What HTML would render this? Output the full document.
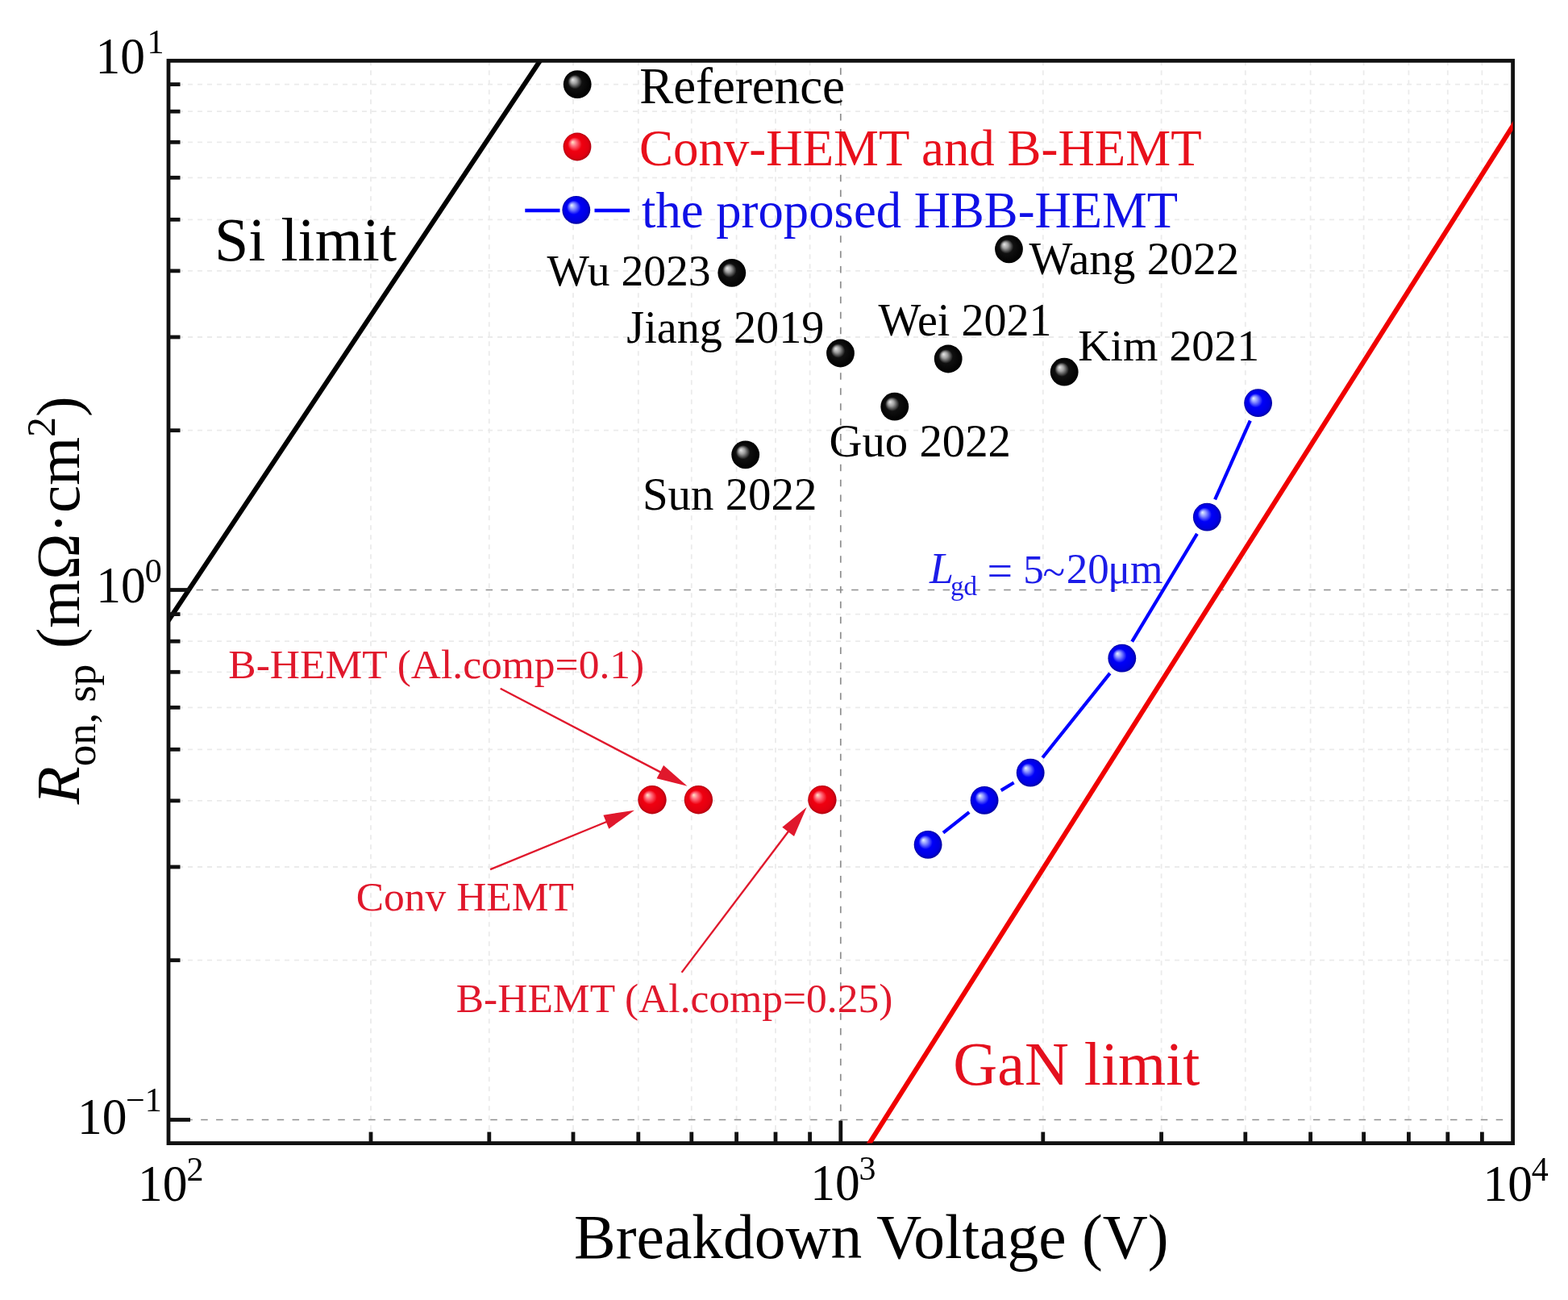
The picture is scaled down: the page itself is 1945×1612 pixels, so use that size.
<!DOCTYPE html>
<html><head><meta charset="utf-8"><title>Ron,sp vs Breakdown Voltage</title>
<style>html,body{margin:0;padding:0;background:#fff;} svg{display:block;} text{font-family:'Liberation Serif','Times New Roman',serif;}</style>
</head><body>
<svg width="1945" height="1612" viewBox="0 0 1945 1612">
<defs>
<radialGradient id="gk" cx="0.5" cy="0.5" r="0.5" fx="0.33" fy="0.33">
<stop offset="0" stop-color="#e8e8e8"/><stop offset="0.22" stop-color="#a0a0a0"/><stop offset="0.5" stop-color="#101010"/><stop offset="1" stop-color="#000"/>
</radialGradient>
<radialGradient id="gr" cx="0.5" cy="0.5" r="0.5" fx="0.33" fy="0.33">
<stop offset="0" stop-color="#ffe6c8"/><stop offset="0.22" stop-color="#ff7080"/><stop offset="0.5" stop-color="#f00010"/><stop offset="0.85" stop-color="#e00010"/><stop offset="1" stop-color="#b00010"/>
</radialGradient>
<radialGradient id="gb" cx="0.5" cy="0.5" r="0.5" fx="0.33" fy="0.33">
<stop offset="0" stop-color="#e8f4ff"/><stop offset="0.22" stop-color="#8890ff"/><stop offset="0.5" stop-color="#0000f8"/><stop offset="0.85" stop-color="#0000e0"/><stop offset="1" stop-color="#0000a0"/>
</radialGradient>
<clipPath id="plot"><rect x="209.0" y="75.3" width="1667.6" height="1342.3"/></clipPath>
</defs>
<rect width="1945" height="1612" fill="#fff"/>

<g stroke="#ebebeb" stroke-width="1.8" stroke-dasharray="6 6"><line x1="460.0" y1="75.3" x2="460.0" y2="1417.6"/><line x1="606.8" y1="75.3" x2="606.8" y2="1417.6"/><line x1="711.0" y1="75.3" x2="711.0" y2="1417.6"/><line x1="791.8" y1="75.3" x2="791.8" y2="1417.6"/><line x1="857.8" y1="75.3" x2="857.8" y2="1417.6"/><line x1="913.6" y1="75.3" x2="913.6" y2="1417.6"/><line x1="962.0" y1="75.3" x2="962.0" y2="1417.6"/><line x1="1004.6" y1="75.3" x2="1004.6" y2="1417.6"/><line x1="1293.8" y1="75.3" x2="1293.8" y2="1417.6"/><line x1="1440.6" y1="75.3" x2="1440.6" y2="1417.6"/><line x1="1544.8" y1="75.3" x2="1544.8" y2="1417.6"/><line x1="1625.6" y1="75.3" x2="1625.6" y2="1417.6"/><line x1="1691.6" y1="75.3" x2="1691.6" y2="1417.6"/><line x1="1747.4" y1="75.3" x2="1747.4" y2="1417.6"/><line x1="1795.8" y1="75.3" x2="1795.8" y2="1417.6"/><line x1="1838.4" y1="75.3" x2="1838.4" y2="1417.6"/><line x1="209.0" y1="1190.7" x2="1876.6" y2="1190.7"/><line x1="209.0" y1="1075.0" x2="1876.6" y2="1075.0"/><line x1="209.0" y1="992.9" x2="1876.6" y2="992.9"/><line x1="209.0" y1="929.3" x2="1876.6" y2="929.3"/><line x1="209.0" y1="877.3" x2="1876.6" y2="877.3"/><line x1="209.0" y1="833.3" x2="1876.6" y2="833.3"/><line x1="209.0" y1="795.2" x2="1876.6" y2="795.2"/><line x1="209.0" y1="761.6" x2="1876.6" y2="761.6"/><line x1="209.0" y1="533.7" x2="1876.6" y2="533.7"/><line x1="209.0" y1="418.0" x2="1876.6" y2="418.0"/><line x1="209.0" y1="335.9" x2="1876.6" y2="335.9"/><line x1="209.0" y1="272.3" x2="1876.6" y2="272.3"/><line x1="209.0" y1="220.3" x2="1876.6" y2="220.3"/><line x1="209.0" y1="176.3" x2="1876.6" y2="176.3"/><line x1="209.0" y1="138.2" x2="1876.6" y2="138.2"/><line x1="209.0" y1="104.6" x2="1876.6" y2="104.6"/></g>
<g stroke="#8e8e8e" stroke-width="1.7" stroke-dasharray="8.5 10.4"><line x1="1042.8" y1="75.3" x2="1042.8" y2="1417.6" stroke-dashoffset="9.85"/><line x1="209.0" y1="731.5" x2="1876.6" y2="731.5" stroke-dashoffset="3.3"/><line x1="209.0" y1="1388.5" x2="1876.6" y2="1388.5" stroke-dashoffset="-2.4"/></g>
<line x1="205.0" y1="775.4" x2="673.9" y2="69.3" stroke="#000" stroke-width="6" clip-path="url(#plot)"/>
<rect x="209.0" y="75.3" width="1667.6" height="1342.3" fill="none" stroke="#111" stroke-width="4.8"/>
<g stroke="#111" stroke-width="4.8"><line x1="209.0" y1="1388.5" x2="236.0" y2="1388.5"/><line x1="209.0" y1="731.5" x2="236.0" y2="731.5"/><line x1="209.0" y1="1190.7" x2="223.5" y2="1190.7"/><line x1="209.0" y1="1075.0" x2="223.5" y2="1075.0"/><line x1="209.0" y1="992.9" x2="223.5" y2="992.9"/><line x1="209.0" y1="929.3" x2="223.5" y2="929.3"/><line x1="209.0" y1="877.3" x2="223.5" y2="877.3"/><line x1="209.0" y1="833.3" x2="223.5" y2="833.3"/><line x1="209.0" y1="795.2" x2="223.5" y2="795.2"/><line x1="209.0" y1="761.6" x2="223.5" y2="761.6"/><line x1="209.0" y1="533.7" x2="223.5" y2="533.7"/><line x1="209.0" y1="418.0" x2="223.5" y2="418.0"/><line x1="209.0" y1="335.9" x2="223.5" y2="335.9"/><line x1="209.0" y1="272.3" x2="223.5" y2="272.3"/><line x1="209.0" y1="220.3" x2="223.5" y2="220.3"/><line x1="209.0" y1="176.3" x2="223.5" y2="176.3"/><line x1="209.0" y1="138.2" x2="223.5" y2="138.2"/><line x1="209.0" y1="104.6" x2="223.5" y2="104.6"/><line x1="1042.8" y1="1417.6" x2="1042.8" y2="1389.6"/><line x1="460.0" y1="1417.6" x2="460.0" y2="1403.6"/><line x1="606.8" y1="1417.6" x2="606.8" y2="1403.6"/><line x1="711.0" y1="1417.6" x2="711.0" y2="1403.6"/><line x1="791.8" y1="1417.6" x2="791.8" y2="1403.6"/><line x1="857.8" y1="1417.6" x2="857.8" y2="1403.6"/><line x1="913.6" y1="1417.6" x2="913.6" y2="1403.6"/><line x1="962.0" y1="1417.6" x2="962.0" y2="1403.6"/><line x1="1004.6" y1="1417.6" x2="1004.6" y2="1403.6"/><line x1="1293.8" y1="1417.6" x2="1293.8" y2="1403.6"/><line x1="1440.6" y1="1417.6" x2="1440.6" y2="1403.6"/><line x1="1544.8" y1="1417.6" x2="1544.8" y2="1403.6"/><line x1="1625.6" y1="1417.6" x2="1625.6" y2="1403.6"/><line x1="1691.6" y1="1417.6" x2="1691.6" y2="1403.6"/><line x1="1747.4" y1="1417.6" x2="1747.4" y2="1403.6"/><line x1="1795.8" y1="1417.6" x2="1795.8" y2="1403.6"/><line x1="1838.4" y1="1417.6" x2="1838.4" y2="1403.6"/></g>
<line x1="1076.6" y1="1420.6" x2="1886.7" y2="140" stroke="#f00000" stroke-width="6" clip-path="url(#plot)"/>
<text transform="translate(118.4,91.3) scale(1,1.045)" font-size="61.5" fill="#000">10</text>
<text x="182.4" y="66.0" font-size="42" fill="#000" >1</text>
<text transform="translate(119.3,747.1) scale(1,1.045)" font-size="61.5" fill="#000">10</text>
<text x="179.7" y="722.4" font-size="42" fill="#000" >0</text>
<text transform="translate(96.0,1405.6) scale(1,1.045)" font-size="61.5" fill="#000">10</text>
<text x="156.0" y="1378.0" font-size="42" fill="#000" >−1</text>
<text transform="translate(171.0,1489.0) scale(1,1.045)" font-size="61.5" fill="#000">10</text>
<text x="231.6" y="1463.5" font-size="42" fill="#000" >2</text>
<text transform="translate(1005.2,1488.4) scale(1,1.045)" font-size="61.5" fill="#000">10</text>
<text x="1065.5" y="1462.5" font-size="42" fill="#000" >3</text>
<text transform="translate(1839.4,1489.0) scale(1,1.045)" font-size="61.5" fill="#000">10</text>
<text x="1899.8" y="1463.5" font-size="42" fill="#000" >4</text>
<text x="712.0" y="1560.2" font-size="77.5" fill="#000" >Breakdown Voltage (V)</text>
<text transform="translate(97.5,997.3) rotate(-90)" font-size="77" fill="#000"><tspan font-style="italic">R</tspan><tspan font-size="53" dy="20">on, sp</tspan><tspan dy="-20"> (mΩ·cm</tspan><tspan font-size="50" dy="-30">2</tspan><tspan dy="30">)</tspan></text>
<text x="266.1" y="322.9" font-size="76" fill="#000" >Si limit</text>
<text x="1182.3" y="1345.3" font-size="76" fill="#e4101e" >GaN limit</text>
<circle cx="716.2" cy="104.6" r="17.4" fill="url(#gk)"/>
<circle cx="716.0" cy="182.0" r="17.4" fill="url(#gr)"/>
<g stroke="#0000ff" stroke-width="4.5"><line x1="651.3" y1="261" x2="694.5" y2="261"/><line x1="737.5" y1="261" x2="781" y2="261"/></g>
<circle cx="714.8" cy="260.3" r="17.4" fill="url(#gb)"/>
<text x="793.2" y="127.8" font-size="62.9" fill="#000" >Reference</text>
<text x="793.0" y="205.3" font-size="62.9" fill="#e8101c" >Conv-HEMT and B-HEMT</text>
<text x="796.0" y="281.7" font-size="62.7" fill="#1010e6" >the proposed HBB-HEMT</text>
<text x="678.5" y="353.8" font-size="55.6" fill="#000" >Wu 2023</text>
<text x="777.3" y="424.7" font-size="56.2" fill="#000" >Jiang 2019</text>
<text x="1276.5" y="339.9" font-size="57.2" fill="#000" >Wang 2022</text>
<text x="1089.6" y="416.2" font-size="56" fill="#000" >Wei 2021</text>
<text x="1337.3" y="446.6" font-size="55.8" fill="#000" >Kim 2021</text>
<text x="1028.4" y="565.5" font-size="56.8" fill="#000" >Guo 2022</text>
<text x="796.9" y="632.4" font-size="56.9" fill="#000" >Sun 2022</text>
<circle cx="907.8" cy="338.3" r="17.4" fill="url(#gk)"/>
<circle cx="1042.5" cy="438.0" r="17.4" fill="url(#gk)"/>
<circle cx="1251.5" cy="308.8" r="17.4" fill="url(#gk)"/>
<circle cx="1176.2" cy="445.0" r="17.4" fill="url(#gk)"/>
<circle cx="1320.2" cy="461.2" r="17.4" fill="url(#gk)"/>
<circle cx="1109.8" cy="504.2" r="17.4" fill="url(#gk)"/>
<circle cx="924.7" cy="563.8" r="17.4" fill="url(#gk)"/>
<g stroke="#0000ff" stroke-width="4.2"><line x1="1170.0" y1="1032.6" x2="1202.2" y2="1007.2"/><line x1="1241.7" y1="980.1" x2="1257.6" y2="970.5"/><line x1="1293.2" y1="939.5" x2="1376.8" y2="834.9"/><line x1="1404.2" y1="795.6" x2="1484.9" y2="661.8"/><line x1="1507.1" y1="619.3" x2="1550.8" y2="521.6"/></g>
<circle cx="1151.1" cy="1047.4" r="17.4" fill="url(#gb)"/>
<circle cx="1221.1" cy="992.4" r="17.4" fill="url(#gb)"/>
<circle cx="1278.2" cy="958.2" r="17.4" fill="url(#gb)"/>
<circle cx="1391.8" cy="816.2" r="17.4" fill="url(#gb)"/>
<circle cx="1497.3" cy="641.2" r="17.4" fill="url(#gb)"/>
<circle cx="1560.6" cy="499.7" r="17.4" fill="url(#gb)"/>
<circle cx="809.0" cy="991.7" r="17.7" fill="url(#gr)"/>
<circle cx="866.4" cy="991.7" r="17.7" fill="url(#gr)"/>
<circle cx="1019.9" cy="991.7" r="17.7" fill="url(#gr)"/>
<text x="283.3" y="841.0" font-size="51.5" fill="#e0182c" >B-HEMT (Al.comp=0.1)</text>
<text x="441.7" y="1128.5" font-size="51.5" fill="#e0182c" >Conv HEMT</text>
<text x="565.7" y="1254.5" font-size="51.5" fill="#e0182c" >B-HEMT (Al.comp=0.25)</text>
<line x1="620.7" y1="853.8" x2="820.6" y2="958.1" stroke="#e0182c" stroke-width="2.4"/>
<polygon points="852.5,974.7 814.6,965.3 823.1,949.0" fill="#e0182c"/>
<line x1="608.1" y1="1078.2" x2="753.7" y2="1018.5" stroke="#e0182c" stroke-width="2.4"/>
<polygon points="787.0,1004.8 755.3,1027.7 748.4,1010.7" fill="#e0182c"/>
<line x1="845.6" y1="1205.9" x2="978.9" y2="1029.7" stroke="#e0182c" stroke-width="2.4"/>
<polygon points="1000.6,1001.0 985.0,1036.9 970.3,1025.8" fill="#e0182c"/>
<text fill="#1c1ce8"><tspan x="1153" y="723" font-size="54" font-style="italic">L</tspan><tspan x="1179" y="738" font-size="33">gd</tspan><tspan x="1224.5" y="727" font-size="56">=</tspan><tspan x="1269.3" y="723" font-size="51">5</tspan><tspan x="1293.4" y="726" font-size="51">~</tspan><tspan x="1322.7" y="723" font-size="53">20</tspan><tspan x="1374.2" y="723" font-size="52">μm</tspan></text>
</svg></body></html>
